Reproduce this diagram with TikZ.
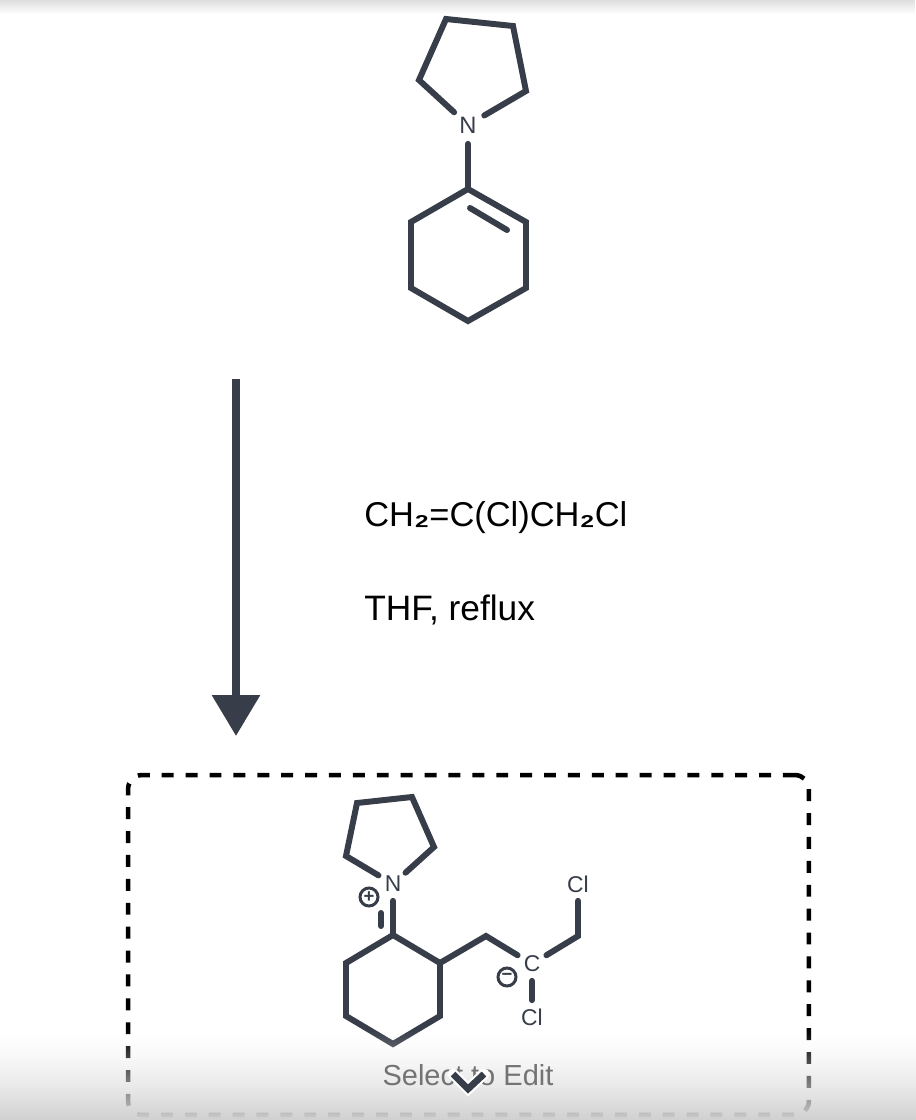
\documentclass[tikz,border=0pt]{standalone}
\usepackage{fontspec}
\setmainfont{Liberation Sans}
\usetikzlibrary{arrows.meta,fadings}
\definecolor{bondcolor}{HTML}{373D49}
\begin{document}
\begin{tikzpicture}[x=.02cm, y=-.02cm, line cap=round, line join=miter,
  atom node/.style={circle,minimum size=.74cm,inner sep=0pt,text=bondcolor,font=\fontsize{13.5}{14}\selectfont},
  small atom/.style={atom node,minimum size=.66cm,font=\fontsize{13}{13}\selectfont},
  charge node/.style={circle,draw=bondcolor,line width=1.7pt,minimum size=.36cm,inner sep=0pt,text=bondcolor,font=\fontsize{10.5}{10}\selectfont\bfseries},
  reagent node/.style={anchor=base west,inner sep=0pt,font=\fontsize{20.1}{21}\selectfont},
  bond/.style={draw=bondcolor,line width=3.4pt}]
\useasboundingbox (0,0) rectangle (916,1120);
% top molecule
\begin{scope}
\node[atom node] (n1) at (468,125) {N};
\coordinate (p1) at (419,80);
\coordinate (p2) at (446,19);
\coordinate (p3) at (513,26);
\coordinate (p4) at (526,91);
\coordinate (h1) at (468,189);
\coordinate (h2) at (526,222);
\coordinate (h3) at (526,288);
\coordinate (h4) at (468,321);
\coordinate (h5) at (411,288);
\coordinate (h6) at (411,222);
\coordinate (d1) at (470,208);
\coordinate (d2) at (507,230);
\draw[bond] (n1) -- (p1) -- (p2) -- (p3) -- (p4) -- (n1);
\draw[bond] (n1) -- (h1);
\draw[bond] (h1) -- (h2) -- (h3) -- (h4) -- (h5) -- (h6) -- cycle;
\draw[bond] (d1) -- (d2);
\end{scope}
% reaction arrow
\coordinate (a1) at (236,379);
\coordinate (a2) at (236,736);
\draw[draw=bondcolor,line width=4.5pt,line cap=butt,-{Triangle[length=.82cm,width=.93cm]}] (a1) -- (a2);
\node[reagent node,font=\fontsize{19.6}{21}\selectfont] (r1) at (364,526) {CH\textbf{₂}=C(Cl)CH\textbf{₂}Cl};
\node[reagent node] (r2) at (364,620) {THF, reflux};
% answer box
\node[draw=black,line width=2.6pt,line cap=butt,dash pattern=on 6.8pt off 6.8pt,rounded corners=.28cm,minimum width=13.62cm,minimum height=6.8cm,inner sep=0pt] (box) at (468.5,945) {};
% bottom molecule
\begin{scope}
\node[small atom] (n2) at (393,884) {N};
\node[small atom] (c1) at (532,964) {C};
\node[small atom] (cl1) at (578,884) {Cl};
\node[small atom] (cl2) at (532,1017) {Cl};
\node[charge node] (plus) at (369,897) {+};
\node[charge node] (minus) at (507,977) {−};
\coordinate (q1) at (346,856);
\coordinate (q2) at (357,803);
\coordinate (q3) at (412,797);
\coordinate (q4) at (434,847);
\coordinate (k1) at (393,935);
\coordinate (k2) at (440,963);
\coordinate (k3) at (440,1016);
\coordinate (k4) at (393,1044);
\coordinate (k5) at (346,1016);
\coordinate (k6) at (346,963);
\coordinate (e1) at (486,936);
\coordinate (e2) at (578,936);
\coordinate (s1) at (381,913);
\coordinate (s2) at (381,926);
\draw[bond] (n2) -- (q1) -- (q2) -- (q3) -- (q4) -- (n2);
\draw[bond] (n2) -- (k1);
\draw[bond] (s1) -- (s2);
\draw[bond] (k1) -- (k2) -- (k3) -- (k4) -- (k5) -- (k6) -- cycle;
\draw[bond] (k2) -- (e1) -- (c1);
\draw[bond] (c1) -- (e2) -- (cl1);
\draw[bond] (c1) -- (cl2);
\end{scope}
% page shades
\fill[black!80!white,opacity=.16,path fading=south] (0,0) rectangle (916,14);
\foreach \i in {1,...,45} {
  \pgfmathsetmacro{\t}{\i/45}
  \pgfmathsetmacro{\a}{.18*\t^1.6+.8*\t}
  \pgfmathsetmacro{\c}{.8*\t/\a}
  \definecolor{stripcolor}{gray}{\c}
  \fill[stripcolor,opacity=\a] (0,1028+2*\i) rectangle (916,1030+2*\i);
}
% edit hint
\node[inner sep=0pt,text=black!55,font=\fontsize{16.5}{17}\selectfont] (hint) at (468,1075) {Select to Edit};
\coordinate (m1) at (453,1074);
\coordinate (m2) at (468,1089);
\coordinate (m3) at (484,1074);
\draw[white,line width=6.2pt] (m1) -- (m2) -- (m3);
\draw[bond,line width=3.8pt,line cap=butt] (m1) -- (m2) -- (m3);
\end{tikzpicture}
\end{document}
